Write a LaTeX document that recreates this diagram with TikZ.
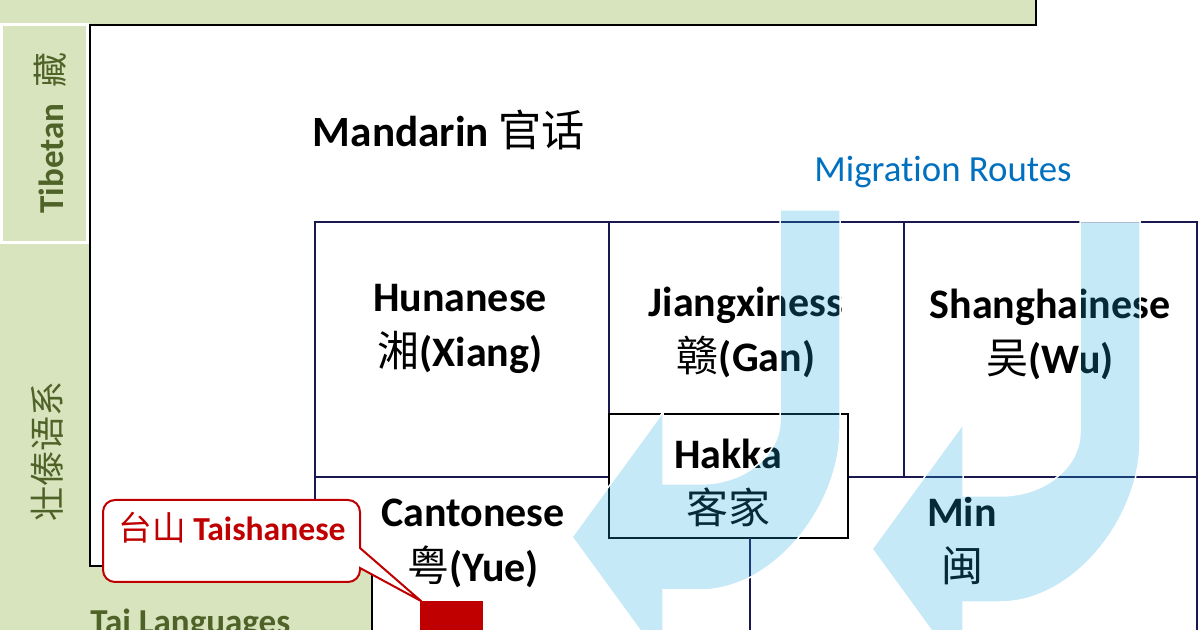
\documentclass[tikz,border=0pt]{standalone}
\usepackage{fontspec}
\setmainfont{Carlito}[Ligatures=NoCommon]
\newfontfamily\cjk{Noto Sans CJK SC}
\usepackage{xcolor}
\usepackage{tikz}

\definecolor{leaf}{RGB}{215,228,189}
\definecolor{leafdark}{RGB}{79,98,40}
\definecolor{cellnavy}{RGB}{25,25,80}
\definecolor{callred}{RGB}{192,0,0}
\definecolor{routeblue}{RGB}{0,112,192}
\definecolor{arrowblue}{RGB}{26,171,227}
\newcommand{\hanzi}[1]{{\cjk\mdseries #1}}

\begin{document}
\begin{tikzpicture}[x=0.5pt,y=-0.5pt,
		cellline/.style={draw=cellnavy, line width=1pt},
		lbl/.style={font=\fontsize{21}{27.5}\selectfont\bfseries, align=center},
		sidelbl/.style={text=leafdark, font=\fontsize{17.5}{20}\selectfont\bfseries},
		route/.style={fill=arrowblue, fill opacity=0.25, draw=white, line width=0.75pt}]
		\useasboundingbox (0,0) rectangle (1200,630);
		
		% areas
		\fill[leaf] (0,0) rectangle (1200,630);
		\draw[fill=white, line width=1pt] (90,-20) -- (1220,-20) -- (1220,650) -- (372,650) -- (372,566) -- (90,566) -- cycle;
		\draw[fill=leaf, line width=1pt] (-20,-20) rectangle (1036,25);
		\draw[fill=leaf, draw=white, line width=1.5pt] (1.5,24.5) rectangle (87.5,242.5);
		
		% dialect cells
		\draw[cellline] (315,566) -- (315,222) -- (1197,222) -- (1197,650);
		\draw[cellline] (315,477) -- (609,477);
		\draw[cellline] (848,477) -- (1197,477);
		\draw[cellline] (609,222) -- (609,538);
		\draw[cellline] (904,222) -- (904,477);
		\draw[cellline, draw=black] (609,414) rectangle (848,538);
		\draw[cellline] (750,538) -- (750,650);
		\fill[callred] (420,601) rectangle (483,650);
		
		\node[lbl, font=\fontsize{21.6}{27.5}\selectfont\bfseries] (mandarin) at (449,130) {Mandarin \hanzi{官话}};
		\node[text=routeblue, font=\fontsize{18.4}{22}\selectfont] (routes) at (943,172) {Migration Routes};
		\node[lbl] (hunan) at (460,329) {Hunanese\\\hanzi{湘}(Xiang)};
		\node[lbl] (gan) at (746,332) {Jiangxiness\\\hanzi{赣}(Gan)};
		\node[lbl] (wu) at (1050,334) {Shanghainese\\\hanzi{吴}(Wu)};
		\node[lbl] (hakka) at (728,483) {Hakka\\\hanzi{客家}};
		\node[lbl] (yue) at (473,543) {Cantonese\\\hanzi{粤}(Yue)};
		\node[lbl] (min) at (962,541) {Min\\\hanzi{闽}};
		
		% callout
		\draw[fill=white, draw=callred, line width=1pt] (115,500) -- (348,500) arc[start angle=-90, end angle=0, radius=12] -- (360,548) -- (421,601) -- (360,568) -- (360,570) arc[start angle=0, end angle=90, radius=12] -- (115,582) arc[start angle=90, end angle=180, radius=12] -- (103,512) arc[start angle=180, end angle=270, radius=12] -- cycle;
		\node[text=callred, font=\fontsize{16.8}{20}\selectfont\bfseries] (taishan) at (232,528) {\hanzi{台山} Taishanese};
		
		% side labels
		\node[sidelbl, rotate=90] (tibetan) at (50,133) {Tibetan\ \ \hanzi{藏}};
		\node[sidelbl, rotate=90] (zhuang) at (47,452) {\hanzi{壮傣语系}};
		\node[sidelbl, anchor=base west, inner sep=0] (tai) at (90,633) {Tai Languages};
		\node[sidelbl, anchor=base west, inner sep=0] (topband) at (374,-5) {Languages};
		
		% migration routes
		\foreach \dx/\dy in {0/0,300/12}{
			\draw[route, shift={(\dx,\dy)}] (780,210) -- (780,420) .. controls (780,455) and (745,484) .. (700,484) -- (663,484) -- (663,412) -- (572,537) -- (663,662) -- (663,590) -- (700,590) .. controls (775,590) and (840,505) .. (840,430) -- (840,210) -- cycle;
		}
	\end{tikzpicture}
\end{document}
